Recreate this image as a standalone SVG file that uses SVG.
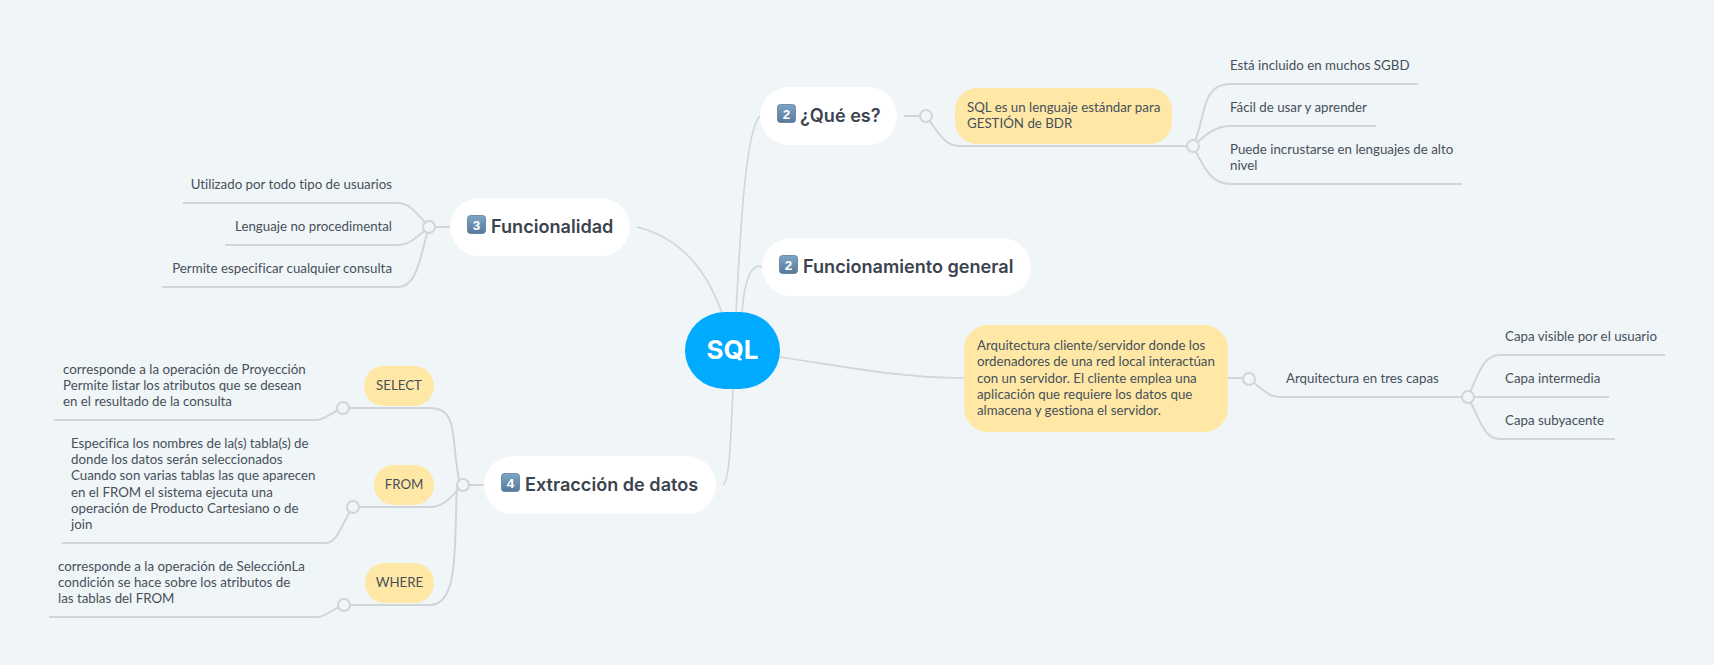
<svg xmlns="http://www.w3.org/2000/svg" width="1714" height="665" viewBox="0 0 1714 665">
<defs>
<linearGradient id="kc" x1="0" y1="0" x2="0" y2="1"><stop offset="0" stop-color="#7FA6C6"/><stop offset="1" stop-color="#55799A"/></linearGradient>
</defs>
<style>
text{font-family:Lato,"Noto Sans",sans-serif;fill:#47505a;font-variant-ligatures:none}
.s{font-size:13.3px}
.m{font-family:Inter,"Noto Sans",sans-serif;font-size:18.1px;font-weight:600;fill:#3b444e}
.k{font-family:"Liberation Sans",sans-serif;font-size:13.5px;font-weight:700;fill:#fff;text-anchor:middle}
.e{text-anchor:end}.c{text-anchor:middle}
.w{fill:#fff}.y{fill:#ffe8a6}
.kb{fill:url(#kc);stroke:#4f7291;stroke-width:.7}
.l{fill:none;stroke:#cfd5d9;stroke-width:2}
.t{fill:none;stroke:#cfd5d9;stroke-width:1.6}
.o{fill:#f0f5f8;stroke:#cfd5d9;stroke-width:2}
</style>
<rect width="1714" height="665" fill="#f0f5f8"/>
<g id="connectors">
<path class="t" d="M722 313C712 285 690 240 637 227"/>
<path class="t" d="M736 312C740 240 745 130 760 116"/>
<path class="t" d="M742 312C744 285 750 262 762 267"/>
<path class="t" d="M780 357C840 366 900 378 964 378"/>
<path class="t" d="M733 389C731 430 730 482 723 485"/>
<path class="l" d="M904 116H920"/>
<path class="l" d="M926 116C938 132 944 146 960 146H1193"/>
<path class="l" d="M1193 146C1206 120 1200 84 1230 84H1418"/>
<path class="l" d="M1193 146C1205 135 1215 126 1230 126H1376"/>
<path class="l" d="M1193 146C1203 165 1210 184 1230 184H1462"/>
<path class="l" d="M450 227H429"/>
<path class="l" d="M429 227C418 215 410 203 398 203H183"/>
<path class="l" d="M429 227C418 236 410 245 398 245H225"/>
<path class="l" d="M429 227C420 255 418 287 398 287H162"/>
<path class="l" d="M484 485H463"/>
<path class="l" d="M460 485C450 440 460 408 430 408H343"/>
<path class="l" d="M463 485C452 495 445 507 430 507H353"/>
<path class="l" d="M457 485C454 540 460 605 430 605H344"/>
<path class="l" d="M343 408C332 412 325 420 316 420H54"/>
<path class="l" d="M353 507C343 520 338 543 326 543H62"/>
<path class="l" d="M344 605C332 609 325 617 318 617H49"/>
<path class="l" d="M1228 378H1249"/>
<path class="l" d="M1249 379C1262 388 1268 397 1280 397H1468"/>
<path class="l" d="M1468 397C1480 370 1484 355 1500 355H1665"/>
<path class="l" d="M1468 397H1609"/>
<path class="l" d="M1468 397C1480 420 1484 439 1500 439H1615"/>
<circle class="o" cx="926" cy="116" r="6"/>
<circle class="o" cx="1193" cy="146" r="6"/>
<circle class="o" cx="429" cy="227" r="6"/>
<circle class="o" cx="463" cy="485" r="6"/>
<circle class="o" cx="343" cy="408" r="6"/>
<circle class="o" cx="353" cy="507" r="6"/>
<circle class="o" cx="344" cy="605" r="6"/>
<circle class="o" cx="1249" cy="379" r="6"/>
<circle class="o" cx="1468" cy="397" r="6"/>
</g>
<g id="root"><rect x="685" y="312" width="95" height="77" rx="40" ry="38.500" fill="#00aaff"/><text x="732.5" y="359" text-anchor="middle" style="font-family:Inter,sans-serif;font-size:26px;font-weight:700;fill:#fff">SQL</text></g>
<g id="n-que"><rect class="w" x="760" y="87" width="137" height="58" rx="29"/><rect class="kb" x="777.5" y="104.5" width="18" height="18" rx="3"/><text class="k" x="786.5" y="118.500">2</text><text class="m" x="800" y="122">¿Qué es?</text></g>
<g id="n-func"><rect class="w" x="762" y="238" width="269" height="58" rx="29"/><rect class="kb" x="779.5" y="255.5" width="18" height="18" rx="3"/><text class="k" x="788.5" y="269.500">2</text><text class="m" x="803" y="273">Funcionamiento general</text></g>
<g id="n-funcionalidad"><rect class="w" x="450" y="198" width="180" height="58" rx="29"/><rect class="kb" x="467.5" y="215.5" width="18" height="18" rx="3"/><text class="k" x="476.500" y="229.500">3</text><text class="m" x="491" y="233">Funcionalidad</text></g>
<g id="n-extraccion"><rect class="w" x="484" y="456" width="232" height="58" rx="29"/><rect class="kb" x="501.5" y="473.5" width="18" height="18" rx="3"/><text class="k" x="510.500" y="487.500">4</text><text class="m" x="525" y="491">Extracción de datos</text></g>
<g id="n-sqlstd"><rect class="y" x="955" y="88" width="217" height="56" rx="22"/><text class="s" x="967" y="112">SQL es un lenguaje estándar para</text><text class="s" x="967" y="128">GESTIÓN de BDR</text></g>
<g id="l1"><text class="s" x="1230" y="70">Está incluido en muchos SGBD</text></g>
<g id="l2"><text class="s" x="1230" y="112">Fácil de usar y aprender</text></g>
<g id="l3"><text class="s" x="1230" y="154">Puede incrustarse en lenguajes de alto</text><text class="s" x="1230" y="170">nivel</text></g>
<g id="f1"><text class="s e" x="392" y="189">Utilizado por todo tipo de usuarios</text></g>
<g id="f2"><text class="s e" x="392" y="231">Lenguaje no procedimental</text></g>
<g id="f3"><text class="s e" x="392" y="273">Permite especificar cualquier consulta</text></g>
<g id="n-select"><rect class="y" x="364" y="366" width="70" height="40" rx="20"/><text class="s c" x="399" y="390">SELECT</text></g>
<g id="n-from"><rect class="y" x="374" y="465" width="60" height="40" rx="20"/><text class="s c" x="404" y="489">FROM</text></g>
<g id="n-where"><rect class="y" x="365" y="563" width="69" height="40" rx="20"/><text class="s c" x="399.500" y="587">WHERE</text></g>
<g id="d-select"><text class="s" x="63" y="374">corresponde a la operación de Proyección</text><text class="s" x="63" y="390">Permite listar los atributos que se desean</text><text class="s" x="63" y="406">en el resultado de la consulta</text></g>
<g id="d-from"><text class="s" x="71" y="448">Especifica los nombres de la(s) tabla(s) de</text><text class="s" x="71" y="464">donde los datos serán seleccionados</text><text class="s" x="71" y="480">Cuando son varias tablas las que aparecen</text><text class="s" x="71" y="497">en el FROM el sistema ejecuta una</text><text class="s" x="71" y="513">operación de Producto Cartesiano o de</text><text class="s" x="71" y="529">join</text></g>
<g id="d-where"><text class="s" x="58" y="571">corresponde a la operación de SelecciónLa</text><text class="s" x="58" y="587">condición se hace sobre los atributos de</text><text class="s" x="58" y="603">las tablas del FROM</text></g>
<g id="n-arq"><rect class="y" x="964" y="325" width="264" height="107" rx="24"/><text class="s" x="977" y="350">Arquitectura cliente/servidor donde los</text><text class="s" x="977" y="366">ordenadores de una red local interactúan</text><text class="s" x="977" y="382.500">con un servidor. El cliente emplea una</text><text class="s" x="977" y="399">aplicación que requiere los datos que</text><text class="s" x="977" y="415">almacena y gestiona el servidor.</text></g>
<g id="n-tres"><text class="s" x="1286" y="383">Arquitectura en tres capas</text></g>
<g id="c1"><text class="s" x="1505" y="341">Capa visible por el usuario</text></g>
<g id="c2"><text class="s" x="1505" y="383">Capa intermedia</text></g>
<g id="c3"><text class="s" x="1505" y="424.500">Capa subyacente</text></g>
</svg>
